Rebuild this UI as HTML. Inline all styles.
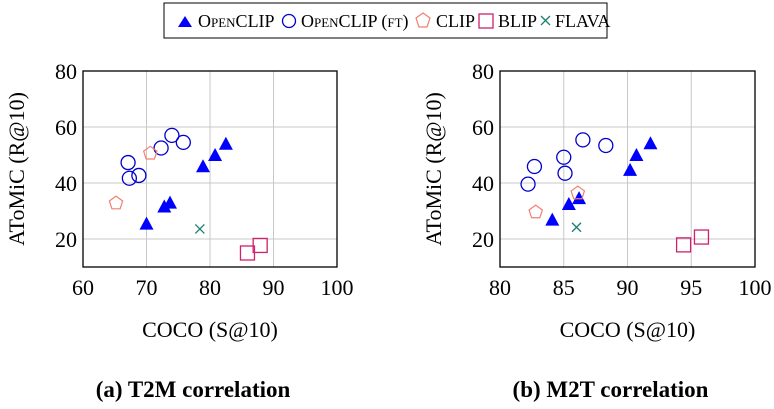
<!DOCTYPE html>
<html><head><meta charset="utf-8">
<style>
body{margin:0;background:#fff;width:774px;height:404px;overflow:hidden}
svg text{font-family:"Liberation Serif","DejaVu Serif",serif;fill:#000}
.sc{font-variant:small-caps}
</style></head>
<body>
<svg id="s" width="774" height="404">
<g>
<rect x="164" y="3" width="443" height="35" fill="#fff" stroke="#000" stroke-width="1"/>
<polygon points="178,27 185,16 192,27" fill="#0000ff"/>
<text x="198" y="27" font-size="18" class="sc">OpenCLIP</text>
<circle cx="289" cy="21" r="6.5" fill="none" stroke="#0000cc" stroke-width="1.3"/>
<text x="301" y="27" font-size="18" class="sc">OpenCLIP (ft)</text>
<polygon points="423,13 430,18 427,27 419,27 416,18" fill="none" stroke="#f08070" stroke-width="1.2"/>
<text x="436" y="27" font-size="18">CLIP</text>
<rect x="479" y="14" width="14" height="14" fill="none" stroke="#d0206e" stroke-width="1.3"/>
<text x="498" y="27" font-size="18">BLIP</text>
<path d="M541,16L550,25M541,25L550,16" stroke="#1a8070" stroke-width="1.3"/>
<text x="555" y="27" font-size="18">FLAVA</text>
</g>
</svg>
<script>
const ns="http://www.w3.org/2000/svg";
const svg=document.getElementById('s');
const yTicks=[20,40,60,80];
const leftXTicks=[60,70,80,90,100];
const rightXTicks=[80,85,90,95,100];
// Left (T2M)
const l_openclip_x=[70,72.8,73.7,78.9,80.8,82.5];
const l_openclip_y=[25.5,31.6,33,46,50,54];
const l_ft_x=[67.1,67.3,68.8,72.3,74,75.8];
const l_ft_y=[47.3,41.7,42.7,52.5,57,54.5];
const l_clip_x=[65.2,70.6];
const l_clip_y=[32.8,50.6];
const l_blip_x=[85.9,87.9];
const l_blip_y=[15,17.7];
const l_flava_x=[78.4];
const l_flava_y=[23.6];
// Right (M2T)
const r_openclip_x=[84.1,85.4,86.2,90.2,90.7,91.8];
const r_openclip_y=[26.9,32.5,34.6,44.7,50,54.2];
const r_ft_x=[82.2,82.7,85,85.1,86.5,88.3];
const r_ft_y=[39.6,45.9,49.2,43.5,55.4,53.4];
const r_clip_x=[82.8,86.1];
const r_clip_y=[29.6,36.4];
const r_blip_x=[94.4,95.8];
const r_blip_y=[17.9,20.7];
const r_flava_x=[86];
const r_flava_y=[24.2];
const SERIF='"Liberation Serif","DejaVu Serif",serif';

function mk(t,a,p){const e=document.createElementNS(ns,t);for(const k in a)e.setAttribute(k,a[k]);if(t==='text')e.setAttribute('font-family',SERIF);(p||svg).appendChild(e);return e;}

function panel(name,x0,x1,xmin,xmax,xticks,S,caption){
  const y0=71,y1=267,ymin=10,ymax=80;
  const X=v=>x0+(v-xmin)/(xmax-xmin)*(x1-x0);
  const Y=v=>y1-(v-ymin)/(ymax-ymin)*(y1-y0);
  const g=mk('g',{});
  
  
  xticks.forEach(t=>{mk('line',{x1:X(t),x2:X(t),y1:y0,y2:y1,stroke:'#c8c8c8','stroke-width':1},g);
    const tx=mk('text',{x:X(t),y:y1+28,'font-size':22,'text-anchor':'middle'},g);tx.textContent=t;
    
    });
  yTicks.forEach(t=>{mk('line',{x1:x0,x2:x1,y1:Y(t),y2:Y(t),stroke:'#c8c8c8','stroke-width':1},g);
    const tx=mk('text',{x:x0-6,y:Y(t)+8,'font-size':22,'text-anchor':'end'},g);tx.textContent=t;
    
    });
  mk('rect',{x:x0,y:y0,width:x1-x0,height:y1-y0,fill:'none',stroke:'#000','stroke-width':1.3},g);
  const xl=mk('text',{x:(x0+x1)/2,y:y1+70,'font-size':22,'text-anchor':'middle'},g);xl.textContent='COCO (S@10)';
  
  
  const yx=x0-59,yy=(y0+y1)/2;
  const yl=mk('text',{x:yx,y:yy,'font-size':22,'text-anchor':'middle',transform:`rotate(-90 ${yx} ${yy})`},g);yl.textContent='AToMiC (R@10)';
  
  
  const cp=mk('text',{x:(x0+x1)/2-17,y:397,'font-size':23,'font-weight':'bold','text-anchor':'middle'},g);cp.textContent=caption;
  
  
  S.ox.forEach((v,i)=>{const cx=X(v),cy=Y(S.oy[i]);
    const m=mk('polygon',{points:`${cx-7},${cy+6} ${cx},${cy-7} ${cx+7},${cy+6}`,fill:'#0000ff'},g);
    
    });
  S.fx.forEach((v,i)=>{const m=mk('circle',{cx:X(v),cy:Y(S.fy[i]),r:7,fill:'none',stroke:'#0000cc','stroke-width':1.3},g);
    
    });
  S.cx.forEach((v,i)=>{const cx=X(v),cy=Y(S.cy[i]);let p=[];
    for(let k=0;k<5;k++){const a=-Math.PI/2+k*2*Math.PI/5;p.push((cx+7*Math.cos(a))+','+(cy+7*Math.sin(a)));}
    const m=mk('polygon',{points:p.join(' '),fill:'none',stroke:'#f08070','stroke-width':1.2},g);
    
    });
  S.bx.forEach((v,i)=>{const m=mk('rect',{x:X(v)-7,y:Y(S.by[i])-7,width:14,height:14,fill:'none',stroke:'#d0206e','stroke-width':1.3},g);
    
    });
  S.vx.forEach((v,i)=>{const cx=X(v),cy=Y(S.vy[i]);
    const m=mk('path',{d:`M${cx-4.5},${cy-4.5}L${cx+4.5},${cy+4.5}M${cx-4.5},${cy+4.5}L${cx+4.5},${cy-4.5}`,stroke:'#1a8070','stroke-width':1.3},g);
    
    });
}
panel('t2m-chart',83,337,60,100,leftXTicks,{ox:l_openclip_x,oy:l_openclip_y,fx:l_ft_x,fy:l_ft_y,cx:l_clip_x,cy:l_clip_y,bx:l_blip_x,by:l_blip_y,vx:l_flava_x,vy:l_flava_y},'(a) T2M correlation');
panel('m2t-chart',500,755,80,100,rightXTicks,{ox:r_openclip_x,oy:r_openclip_y,fx:r_ft_x,fy:r_ft_y,cx:r_clip_x,cy:r_clip_y,bx:r_blip_x,by:r_blip_y,vx:r_flava_x,vy:r_flava_y},'(b) M2T correlation');
</script>
</body></html>
